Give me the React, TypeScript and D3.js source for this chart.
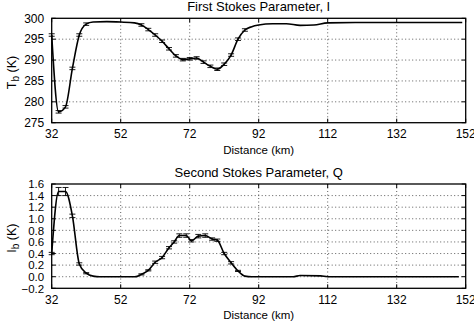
import React from "react";
import * as d3 from "d3";

const xTicks = [32, 52, 72, 92, 112, 132, 152];

const iDist = [32, 34, 36, 38, 40, 42, 44, 48, 52, 56, 58, 60, 62, 64, 66, 68, 70, 72, 74, 76, 78, 80, 82, 84, 86, 88, 90, 92, 96, 100, 104, 108, 112, 120, 130, 140, 151];
const iVals = [296, 277.6, 278.8, 288, 296, 298.6, 299.1, 299.2, 299.1, 298.9, 298.4, 297.3, 296, 294.5, 292.7, 291, 290.1, 290.3, 290.5, 289.5, 288.5, 287.8, 289, 291.2, 295, 297.2, 298, 298.4, 298.7, 298.7, 298.3, 298.4, 298.9, 299, 299, 299, 299];
const iErr = [0.3, 0.3, 0.3, 0.3, 0.3, 0.3, 0, 0, 0, 0, 0.3, 0.3, 0.3, 0.3, 0.3, 0.3, 0.3, 0.3, 0.3, 0.3, 0.3, 0.3, 0.3, 0.3, 0.3, 0.3, 0, 0, 0, 0, 0, 0, 0, 0, 0, 0, 0];
const iTicks = [275, 280, 285, 290, 295, 300];

const qDist = [32, 34, 36, 38, 40, 42, 44, 46, 56, 57, 58, 60, 62, 64, 66, 67.5, 69, 71, 72.5, 74.5, 76.5, 78.5, 80, 82, 84, 86, 88, 90, 102, 104, 110, 112, 150];
const qVals = [0.4, 1.47, 1.47, 1.05, 0.22, 0.06, 0.01, 0.0, 0.0, 0.01, 0.04, 0.11, 0.25, 0.33, 0.5, 0.6, 0.71, 0.71, 0.62, 0.7, 0.71, 0.65, 0.63, 0.4, 0.24, 0.1, 0.01, 0.0, 0.0, 0.02, 0.015, 0.0, 0.0];
const qErr = [0.02, 0.07, 0.07, 0.03, 0.02, 0.01, 0, 0, 0, 0, 0.01, 0.01, 0.02, 0.02, 0.02, 0.02, 0.03, 0.03, 0.02, 0.03, 0.03, 0.02, 0.02, 0.02, 0.02, 0.01, 0, 0, 0, 0, 0, 0, 0];
const qTicks = [-0.2, 0, 0.2, 0.4, 0.6, 0.8, 1.0, 1.2, 1.4, 1.6];

const FONT = "'Liberation Sans', Arial, Helvetica, sans-serif";
const L = 51.7, R = 465.7;

type PanelProps = {
  top: number; bottom: number; title: string; yDomain: [number, number];
  yTicks: number[]; fmt: (v: number) => string; dist: number[]; vals: number[]; errs: number[];
  ySym: string; yLabelX: number; tickFont: number;
};

function Panel(p: PanelProps) {
  const x = d3.scaleLinear().domain([32, 152]).range([L, R]);
  const y = d3.scaleLinear().domain(p.yDomain).range([p.bottom, p.top]);
  const pts = p.dist.map((d, i) => [d, p.vals[i]] as [number, number]);
  const line = d3.line<[number, number]>().x(d => x(d[0])).y(d => y(d[1])).curve(d3.curveMonotoneX);
  const cap = 3;
  return (
    <g>
      {xTicks.slice(1, -1).map(t => (
        <line key={"gx" + t} x1={x(t)} x2={x(t)} y1={p.top} y2={p.bottom} stroke="#333" strokeWidth={0.8} strokeDasharray="1,2.5" />
      ))}
      {p.yTicks.slice(1, -1).map(t => (
        <line key={"gy" + t} x1={L} x2={R} y1={y(t)} y2={y(t)} stroke="#333" strokeWidth={0.8} strokeDasharray="1,2.5" />
      ))}
      {xTicks.map(t => (
        <g key={"tx" + t}>
          <line x1={x(t)} x2={x(t)} y1={p.bottom} y2={p.bottom - 4} stroke="#000" />
          <line x1={x(t)} x2={x(t)} y1={p.top} y2={p.top + 4} stroke="#000" />
          <text x={x(t)} y={p.bottom + 15.5} textAnchor="middle" fontSize={12} fontFamily={FONT}>{t}</text>
        </g>
      ))}
      {p.yTicks.map(t => (
        <g key={"ty" + t}>
          <line x1={L} x2={L + 4} y1={y(t)} y2={y(t)} stroke="#000" />
          <line x1={R} x2={R - 4} y1={y(t)} y2={y(t)} stroke="#000" />
          <text x={L - 7.5} y={y(t) + 4.2} textAnchor="end" fontSize={p.tickFont} fontFamily={FONT}>{p.fmt(t)}</text>
        </g>
      ))}
      <path d={line(pts) || ""} fill="none" stroke="#000" strokeWidth={1.6} />
      {pts.map((d, i) => p.errs[i] > 0 ? (
        <g key={"e" + i} stroke="#000" strokeWidth={0.9}>
          <line x1={x(d[0])} x2={x(d[0])} y1={y(d[1] - p.errs[i])} y2={y(d[1] + p.errs[i])} />
          <line x1={x(d[0]) - cap} x2={x(d[0]) + cap} y1={y(d[1] - p.errs[i])} y2={y(d[1] - p.errs[i])} />
          <line x1={x(d[0]) - cap} x2={x(d[0]) + cap} y1={y(d[1] + p.errs[i])} y2={y(d[1] + p.errs[i])} />
        </g>
      ) : null)}
      <rect x={L} y={p.top} width={R - L} height={p.bottom - p.top} fill="none" stroke="#000" strokeWidth={1.3} />
      <text x={(L + R) / 2} y={p.top - 7} textAnchor="middle" fontSize={13} fontFamily={FONT}>{p.title}</text>
      <text x={(L + R) / 2} y={p.bottom + 31} textAnchor="middle" fontSize={11.5} fontFamily={FONT}>Distance (km)</text>
      <text transform={`translate(${p.yLabelX},${(p.top + p.bottom) / 2 + 2}) rotate(-90)`} textAnchor="middle" fontSize={12.5} fontFamily={FONT}>
        {p.ySym}<tspan fontSize={10} dy={3}>b</tspan><tspan dy={-3}> (K)</tspan>
      </text>
    </g>
  );
}

export default function App() {
  return (
    <svg width={474} height={322} style={{ position: "fixed", left: 0, top: 0, background: "#fff" }}>
      <rect width={474} height={322} fill="#fff" />
      <Panel top={18.3} bottom={122.7} title="First Stokes Parameter, I" yDomain={[275, 300]} yTicks={iTicks}
        fmt={v => String(v)} dist={iDist} vals={iVals} errs={iErr} ySym="T" yLabelX={16} tickFont={12} />
      <Panel top={184} bottom={288.3} title="Second Stokes Parameter, Q" yDomain={[-0.2, 1.6]} yTicks={qTicks}
        fmt={v => (v < 0 ? "\u2212" : "") + Math.abs(v).toFixed(1)} dist={qDist} vals={qVals} errs={qErr} ySym="I" yLabelX={16} tickFont={11.5} />
    </svg>
  );
}
